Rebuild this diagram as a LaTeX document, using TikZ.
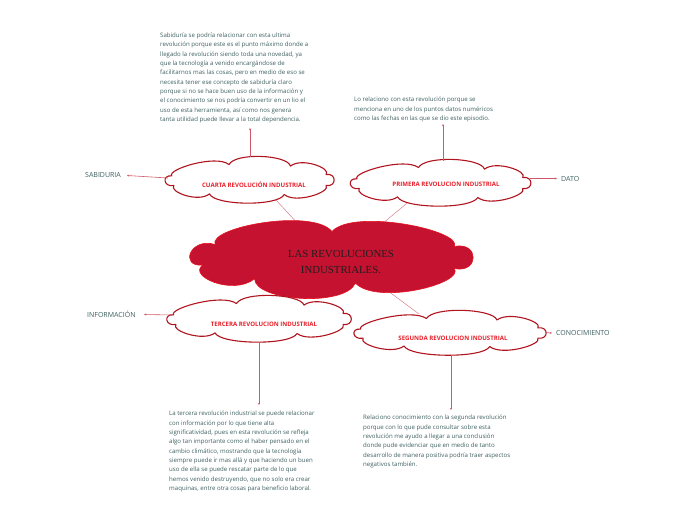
\documentclass[tikz,border=0pt]{standalone}
\usepackage{fontspec}
\setmainfont{Open Sans}
\newfontfamily\serifcenter{Liberation Serif}
\usetikzlibrary{arrows.meta}
\definecolor{cloudline}{HTML}{B0141E}
\definecolor{cloudtext}{HTML}{E8202A}
\definecolor{centerfill}{HTML}{C41230}
\definecolor{centerline}{HTML}{E8101E}
\definecolor{notetext}{HTML}{3D5E5E}
\definecolor{conn}{HTML}{D8808C}
\definecolor{vconn}{HTML}{D05868}
\tikzset{
  subcloud/.style={draw=cloudline, line width=1.1pt, fill=white, line join=round},
  maincloud/.style={draw=centerline, line width=0.6pt, fill=centerfill, line join=round},
  cloudlabel/.style={inner sep=0pt, font=\fontsize{6.1}{7}\selectfont\bfseries, text=cloudtext},
  note/.style={anchor=north west, inner sep=0pt, align=left, text=notetext,
    font=\fontsize{6.1}{9.35}\selectfont},
  lab/.style={inner sep=0pt, text=notetext, font=\fontsize{7}{8}\selectfont},
  link/.style={draw=conn, line width=0.5pt},
  arr/.style={draw=vconn, line width=0.6pt, -{Stealth[length=2.2pt,width=2pt]}},
}
% #1 style, #2 cx, #3 cy, #4 a, #5 b, #6 A, #7 B, #8 start angle, #9 angle list
\newcommand\mycloud[9]{%
  \path[#1] ([shift={(#2,#3)}]#8:#4 and #5)
    \foreach \t [remember=\t as \lt (initially #8)] in {#9} {
      .. controls ([shift={(#2,#3)}]\lt*0.88+\t*0.12:#6 and #7)
         and ([shift={(#2,#3)}]\t*0.88+\lt*0.12:#6 and #7)
      .. ([shift={(#2,#3)}]\t:#4 and #5)
    } -- cycle;}
\begin{document}
\begin{tikzpicture}[x=1pt,y=-1pt]
\useasboundingbox (0,0) rectangle (697,520);

% connectors main -> clouds (drawn first, under clouds)
\coordinate (m4) at (300,226);
\coordinate (e4) at (275,199);
\coordinate (m1) at (382,224);
\coordinate (e1) at (412,199);
\coordinate (m3) at (302,283);
\coordinate (e3) at (282,302);
\coordinate (m2) at (380,285);
\coordinate (e2) at (419,314);
\draw[link] (m4) -- (e4);
\draw[link] (m1) -- (e1);
\draw[link] (m3) -- (e3);
\draw[link] (m2) -- (e2);

% main cloud
\mycloud{maincloud}{332}{257.5}{135}{26}{156}{50}{-25}{25,80,125,163,210,270,335}
\node[align=center, font=\serifcenter\fontsize{10.8}{16}\selectfont, text=black!88, inner sep=0pt] (maintext) at (341,262) {LAS REVOLUCIONES\\INDUSTRIALES.};

% sub clouds
\mycloud{subcloud}{250}{180}{81}{16}{90}{28}{-20}{20,65,120,160,195,255,300,340}
\mycloud{subcloud}{441}{183}{87}{16}{96}{28}{-20}{20,65,120,160,195,255,300,340}
\mycloud{subcloud}{259.5}{319}{89}{16}{98}{28}{-20}{20,65,120,160,195,255,300,340}
\mycloud{subcloud}{450.5}{333}{93}{15}{102}{27}{-20}{20,65,120,160,195,255,300,340}

\node[cloudlabel] (c4t) at (254,185) {CUARTA REVOLUCIÓN INDUSTRIAL};
\node[cloudlabel] (c1t) at (446,184) {PRIMERA REVOLUCION INDUSTRIAL};
\node[cloudlabel] (c3t) at (264,324) {TERCERA REVOLUCION INDUSTRIAL};
\node[cloudlabel] (c2t) at (453,338) {SEGUNDA REVOLUCION INDUSTRIAL};

% notes
\node[note] (n4) at (160,32.5) {Sabiduría se podría relacionar con esta ultima\\
revolución porque este es el punto máximo donde a\\
llegado la revolución siendo toda una novedad, ya\\
que la tecnología a venido encargándose de\\
facilitarnos mas las cosas, pero en medio de eso se\\
necesita tener ese concepto de sabiduría claro\\
porque si no se hace buen uso de la información y\\
el conocimiento se nos podría convertir en un lio el\\
uso de esta herramienta, así como nos genera\\
tanta utilidad puede llevar a la total dependencia.};

\node[note] (n1) at (354,97) {Lo relaciono con esta revolución porque se\\
menciona en uno de los puntos datos numéricos\\
como las fechas en las que se dio este episodio.};

\node[note] (n3) at (169,411) {La tercera revolución industrial se puede relacionar\\
con información por lo que tiene alta\\
significatividad, pues en esta revolución se refleja\\
algo tan importante como el haber pensado en el\\
cambio climático, mostrando que la tecnología\\
siempre puede ir mas allá y que haciendo un buen\\
uso de ella se puede rescatar parte de lo que\\
hemos venido destruyendo, que no solo era crear\\
maquinas, entre otra cosas para beneficio laboral.};

\node[note] (n2) at (363,415) {Relaciono conocimiento con la segunda revolución\\
porque con lo que pude consultar sobre esta\\
revolución me ayudo a llegar a una conclusión\\
donde pude evidenciar que en medio de tanto\\
desarrollo de manera positiva podría traer aspectos\\
negativos también.};

\coordinate (s4) at (250,157);
\coordinate (s1) at (443,161);
\coordinate (s3) at (259,342);
\coordinate (s2) at (451,355);
\coordinate (a4) at (250,128);
\coordinate (a1) at (443,124);
\coordinate (a3) at (259,405);
\coordinate (a2) at (451,410);
\draw[arr] (s4) -- (a4);
\draw[arr] (s1) -- (a1);
\draw[arr] (s3) -- (a3);
\draw[arr] (s2) -- (a2);

% side labels
\node[lab, anchor=west] (l4) at (85,175) {SABIDURIA};
\node[lab, anchor=west] (l1) at (561,178.5) {DATO};
\node[lab, anchor=west] (l3) at (87,314) {INFORMACIÓN};
\node[lab, anchor=west] (l2) at (556,333) {CONOCIMIENTO};
\coordinate (r4) at (168,178);
\coordinate (r1) at (530,178.5);
\coordinate (r3) at (171,315);
\coordinate (r2) at (545,332.5);
\coordinate (b4) at (127,175.5);
\coordinate (b1) at (557,178.5);
\coordinate (b3) at (144,314.5);
\coordinate (b2) at (552,333);
\draw[arr] (r4) -- (b4);
\draw[arr] (r1) -- (b1);
\draw[arr] (r3) -- (b3);
\draw[arr] (r2) -- (b2);
\end{tikzpicture}
\end{document}
